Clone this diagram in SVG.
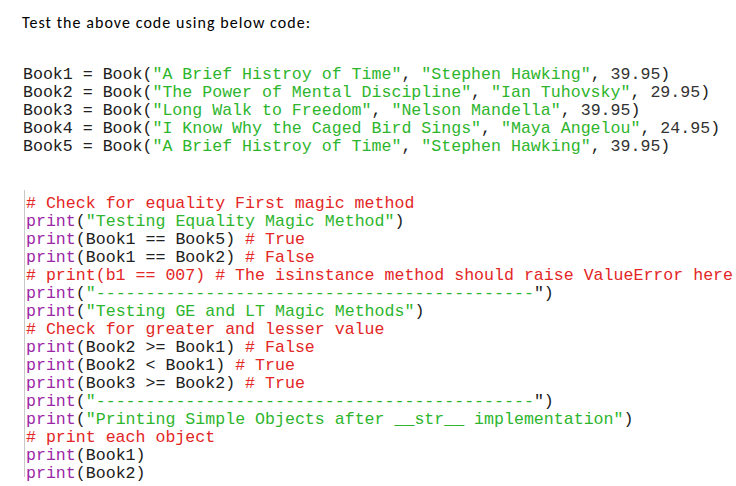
<svg xmlns="http://www.w3.org/2000/svg" width="736" height="486" viewBox="0 0 736 486">
<style>
.c{font-family:"Liberation Mono",monospace;font-size:16.6px;fill:#202020;white-space:pre}
.k{fill:#9c27a8}.s{fill:#2db52d}.r{fill:#e32626}.n{fill:#333}
.t{font-family:"Carlito","Liberation Sans",sans-serif;font-size:16px;fill:#000}
</style>
<rect width="736" height="486" fill="#fff"/>
<text class="t" x="22" y="28" textLength="288">Test the above code using below code:</text>
<g id="block1" class="c" xml:space="preserve">
<text x="23" y="79">Book1 = Book(<tspan class="s">"A Brief Histroy of Time"</tspan>, <tspan class="s">"Stephen Hawking"</tspan>, <tspan class="n">39.95</tspan>)</text>
<text x="23" y="97">Book2 = Book(<tspan class="s">"The Power of Mental Discipline"</tspan>, <tspan class="s">"Ian Tuhovsky"</tspan>, <tspan class="n">29.95</tspan>)</text>
<text x="23" y="115">Book3 = Book(<tspan class="s">"Long Walk to Freedom"</tspan>, <tspan class="s">"Nelson Mandella"</tspan>, <tspan class="n">39.95</tspan>)</text>
<text x="23" y="133">Book4 = Book(<tspan class="s">"I Know Why the Caged Bird Sings"</tspan>, <tspan class="s">"Maya Angelou"</tspan>, <tspan class="n">24.95</tspan>)</text>
<text x="23" y="151">Book5 = Book(<tspan class="s">"A Brief Histroy of Time"</tspan>, <tspan class="s">"Stephen Hawking"</tspan>, <tspan class="n">39.95</tspan>)</text>
</g>
<line x1="24.5" y1="190" x2="24.5" y2="477" stroke="#c8c8c8" stroke-width="1"/>
<g id="block2" class="c" xml:space="preserve">
<text x="26" y="208" class="r"># Check for equality First magic method</text>
<text x="26" y="226"><tspan class="k">print</tspan>(<tspan class="s">"Testing Equality Magic Method"</tspan>)</text>
<text x="26" y="244"><tspan class="k">print</tspan>(Book1 == Book5) <tspan class="r"># True</tspan></text>
<text x="26" y="262"><tspan class="k">print</tspan>(Book1 == Book2) <tspan class="r"># False</tspan></text>
<text x="26" y="280" class="r"># print(b1 == 007) # The isinstance method should raise ValueError here</text>
<text x="26" y="298"><tspan class="k">print</tspan>(<tspan class="s">"--------------------------------------------</tspan>")</text>
<text x="26" y="316"><tspan class="k">print</tspan>(<tspan class="s">"Testing GE and LT Magic Methods"</tspan>)</text>
<text x="26" y="334" class="r"># Check for greater and lesser value</text>
<text x="26" y="352"><tspan class="k">print</tspan>(Book2 &gt;= Book1) <tspan class="r"># False</tspan></text>
<text x="26" y="370"><tspan class="k">print</tspan>(Book2 &lt; Book1)  <tspan class="r"># True</tspan></text>
<text x="26" y="388"><tspan class="k">print</tspan>(Book3 &gt;= Book2) <tspan class="r"># True</tspan></text>
<text x="26" y="406"><tspan class="k">print</tspan>(<tspan class="s">"--------------------------------------------</tspan>")</text>
<text x="26" y="424"><tspan class="k">print</tspan>(<tspan class="s">"Printing Simple Objects after __str__ implementation"</tspan>)</text>
<text x="26" y="442" class="r"># print each object</text>
<text x="26" y="460"><tspan class="k">print</tspan>(Book1)</text>
<text x="26" y="478"><tspan class="k">print</tspan>(Book2)</text>
</g>
</svg>
